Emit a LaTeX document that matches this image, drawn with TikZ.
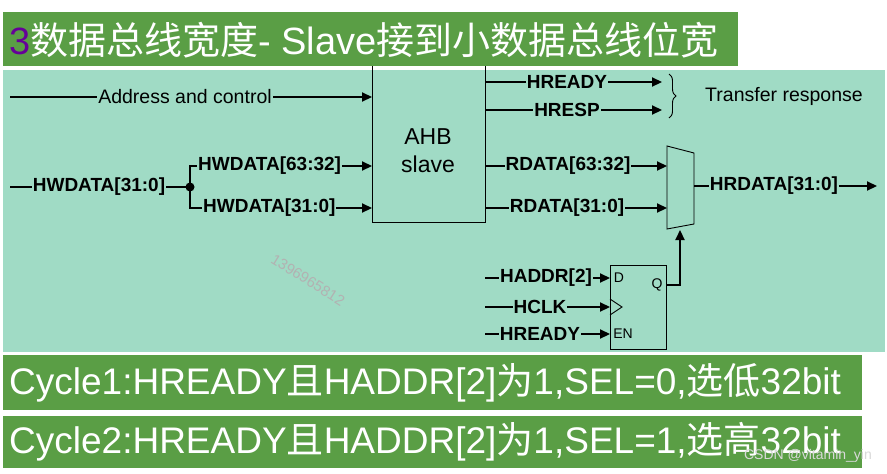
\documentclass[tikz,border=0pt]{standalone}
\usepackage{fontspec}
\setmainfont{Liberation Sans}
\newfontfamily\cjk{Noto Sans CJK SC}
\newcommand{\zh}[1]{{\cjk #1}}
\usetikzlibrary{arrows.meta,decorations.pathreplacing}
\definecolor{panel}{HTML}{A0DBC5}
\definecolor{bar}{HTML}{5A9E45}
\begin{document}
\begin{tikzpicture}[x=1pt,y=-1pt,
  sig/.style={line width=2.2pt},
  arr/.style={sig,-{Triangle[length=10pt,width=9pt]}},
  lab/.style={fill=panel,inner sep=1pt,font=\fontsize{19}{19}\selectfont\bfseries},
  rlab/.style={fill=panel,inner sep=1pt,font=\fontsize{19.5}{19.5}\selectfont},
  box/.style={draw,line width=0.9pt},
  bartext/.style={font=\fontsize{37}{37}\selectfont,text=white,anchor=west,inner sep=0}]
\useasboundingbox (0,0) rectangle (887,474);
\fill[white] (0,0) rectangle (887,474);
\fill[bar] (3,12) rectangle (738,66);
\node[bartext,font=\fontsize{38}{38}\selectfont] (title) at (9,40) {{\color{violet!80!blue}3}\zh{数据总线宽度}- Slave\zh{接到小数据总线位宽}};
\fill[panel] (3,70) rectangle (885,352);
\node (w) at (308,280) [rotate=-32,text=gray!60,font=\fontsize{15}{15}\selectfont] {1396965812};
% AHB slave
\draw[box] (372,66) -- (372,222) -- (485,222) -- (485,66);
\node (s) at (428,151) [align=center,font=\fontsize{23}{28}\selectfont] {AHB\\slave};
\coordinate (sA) at (372,97);
\coordinate (a0) at (10,97);
\draw[arr] (a0) -- (sA);
\node[rlab] at (185,97) {Address and control};
% data in
\coordinate (h0) at (10,187);
\coordinate (hs) at (190,187);
\draw[sig] (h0) -- (hs);
\fill (hs) circle (4.5);
\node[lab] at (99,187) {HWDATA[31:0]};
\coordinate (hu) at (372,166);
\coordinate (hl) at (372,208);
\draw[arr] (hs) |- (hu);
\draw[arr] (hs) |- (hl);
\node[lab,anchor=west] at (197,166) {HWDATA[63:32]};
\node[lab,anchor=west] at (202,208) {HWDATA[31:0]};
% responses
\coordinate (r1) at (662,82);
\coordinate (r2) at (662,110);
\draw[arr] (485,82) -- (r1);
\draw[arr] (485,110) -- (r2);
\node[lab] at (567,82) {HREADY};
\node[lab] at (567,110) {HRESP};
\draw[line width=0.9pt,decorate,decoration={brace,amplitude=7pt}] (669,74) -- (669,118);
\node (tr) at (784,96) [font=\fontsize{19.5}{19.5}\selectfont] {Transfer response};
% mux
\draw[box,fill=panel] (667,146) -- (694,153) -- (694,224) -- (667,229) -- cycle;
\coordinate (m1) at (667,166);
\coordinate (m2) at (667,208);
\draw[arr] (485,166) -- (m1);
\draw[arr] (485,208) -- (m2);
\node[lab] at (568,166) {RDATA[63:32]};
\node[lab] at (567,208) {RDATA[31:0]};
\coordinate (mo) at (694,186);
\coordinate (out) at (877,186);
\draw[arr] (mo) -- (out);
\node[lab] at (774,186) {HRDATA[31:0]};
% flip flop
\node (ff) [box,minimum width=56pt,minimum height=84pt,inner sep=0] at (638,307) {};
\node at (619,278) [font=\fontsize{14}{14}\selectfont] {D};
\node at (657,285) [font=\fontsize{14}{14}\selectfont] {Q};
\node at (623,334) [font=\fontsize{14}{14}\selectfont] {EN};
\draw[line width=0.9pt] (610,299) -- (622,307) -- (610,315);
\draw[arr] (666,285) -| (680,230);
\draw[arr] (485,278) -- (610,278);
\draw[arr] (485,307) -- (610,307);
\draw[arr] (485,334) -- (610,334);
\node[lab] at (546,278) {HADDR[2]};
\node[lab] at (540,307) {HCLK};
\node[lab] at (540,334) {HREADY};
% bars
\fill[bar] (3,355) rectangle (862,410);
\node[bartext] (c1) at (9,383) {Cycle1:HREADY\zh{且}HADDR[2]\zh{为}1,SEL=0,\zh{选低}32bit};
\fill[bar] (3,416) rectangle (862,468);
\node[bartext] (c2) at (9,442) {Cycle2:HREADY\zh{且}HADDR[2]\zh{为}1,SEL=1,\zh{选高}32bit};
\node (wm) at (808,456) [text=gray!30,font=\fontsize{14}{14}\selectfont] {CSDN @vitamin\_yin};
\end{tikzpicture}
\end{document}
